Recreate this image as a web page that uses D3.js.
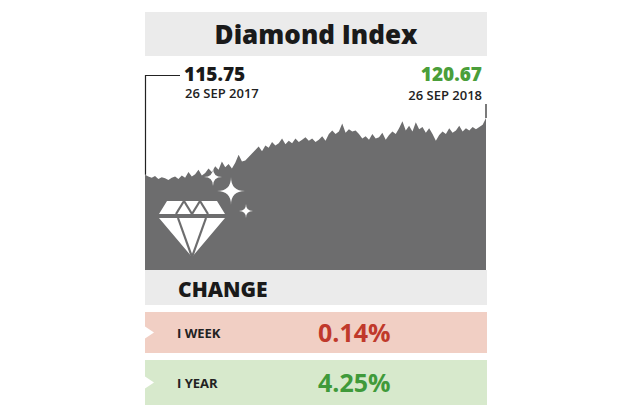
<!DOCTYPE html><html><head><meta charset="utf-8">
<script src="https://cdn.jsdelivr.net/npm/d3@7"></script>
<style>body{margin:0;background:#fff}svg{display:block}</style></head><body>
<svg id="c" width="630" height="416"></svg>
<script>
const title="Diamond Index";
const startLabel={value:"115.75",date:"26 SEP 2017"};
const endLabel={value:"120.67",date:"26 SEP 2018"};
const changeLabels=["I WEEK","I YEAR"];
const changeValues=["0.14%","4.25%"];
const series=[115.75,115.6,115.5,115.65,115.4,115.55,115.45,115.3,115.5,115.6,
115.4,115.7,115.5,116.0,115.6,115.8,116.2,115.7,115.9,116.3,
116.0,116.5,116.2,116.9,116.4,116.7,116.3,116.8,117.5,116.9,117.0,117.3,
117.6,117.9,118.2,117.8,118.3,118.1,118.6,118.3,118.5,118.9,
118.4,118.7,118.5,118.9,118.6,118.8,119.0,118.7,118.9,118.6,118.8,119.1,118.7,119.3,
119.6,119.3,119.5,120.2,119.4,119.7,119.5,119.6,119.3,118.9,
119.1,118.8,119.3,118.9,119.0,119.4,118.8,119.2,119.5,119.3,
119.8,120.4,119.6,120.0,119.5,120.3,119.7,119.9,119.4,119.8,119.3,118.7,
119.2,119.5,119.3,119.8,119.4,119.6,120.0,119.5,119.8,119.6,119.9,119.7,
119.9,120.1,120.67];

const svg=d3.select("#c");
const L=145,R=487;
svg.append("rect").attr("x",L).attr("y",12).attr("width",R-L).attr("height",44).attr("fill","#ebebeb");
svg.append("text").attr("x",(L+R)/2).attr("y",44).attr("text-anchor","middle")
 .attr("font-family","Open Sans").attr("font-weight",800).attr("font-size",26).attr("fill","#1a1a1a").text(title);

const x=d3.scaleLinear().domain([0,series.length-1]).range([L,R-1]);
const y=d3.scaleLinear().domain([107.5,122.5]).range([270,97]);
svg.append("path").datum(series).attr("fill","#6d6d6e")
 .attr("d",d3.area().x((d,i)=>x(i)).y0(270).y1(d=>y(d)));
svg.append("path").attr("fill","none").attr("stroke","#222").attr("stroke-width",1.2)
 .attr("d",`M${L+0.5},${y(series[0])}V75.5H180`);
svg.append("line").attr("x1",x(series.length-1)).attr("x2",x(series.length-1))
 .attr("y1",y(series[series.length-1])).attr("y2",104).attr("stroke","#222").attr("stroke-width",1.2);
const f="Open Sans";
svg.append("text").attr("x",184).attr("y",81).attr("font-family",f).attr("font-weight",800).attr("font-size",19).attr("fill","#1a1a1a").text(startLabel.value);
svg.append("text").attr("x",185).attr("y",98).attr("font-family",f).attr("font-weight",600).attr("font-size",13).attr("fill","#222").text(startLabel.date);
svg.append("text").attr("x",482).attr("y",81).attr("text-anchor","end").attr("font-family",f).attr("font-weight",800).attr("font-size",19).attr("fill","#4a9e3a").text(endLabel.value);
svg.append("text").attr("x",482).attr("y",100).attr("text-anchor","end").attr("font-family",f).attr("font-weight",600).attr("font-size",13).attr("fill","#222").text(endLabel.date);

// diamond icon
const g=svg.append("g").attr("fill","#fff");
g.append("path").attr("d","M167,201H217L225,214H159Z M159,218H225L192,257Z");
const gl=svg.append("g").attr("stroke","#6d6d6e").attr("stroke-width",2.2);
[[184,201,176,214],[184,201,192,214],[200,201,192,214],[200,201,208,214],[178,218,192,257],[206,218,192,257]]
 .forEach(a=>gl.append("line").attr("x1",a[0]).attr("y1",a[1]).attr("x2",a[2]).attr("y2",a[3]));
function spark(cx,cy,r){g.append("path").attr("d",`M${cx},${cy-r}Q${cx},${cy} ${cx+r},${cy}Q${cx},${cy} ${cx},${cy+r}Q${cx},${cy} ${cx-r},${cy}Q${cx},${cy} ${cx},${cy-r}Z`);}
spark(213,177,9);spark(231,191,14);spark(246,211,7);

// change section
svg.append("rect").attr("x",L).attr("y",270).attr("width",R-L).attr("height",35).attr("fill","#ebebeb");
svg.append("text").attr("x",178).attr("y",297).attr("font-family",f).attr("font-weight",800).attr("font-size",21).attr("fill","#1a1a1a").text("CHANGE");
const rows=[{y:312,h:41,bg:"#f1cfc4",c:"#c0392b"},{y:360,h:45,bg:"#d7e9cc",c:"#3f9a3a"}];
rows.forEach((r,i)=>{
 svg.append("rect").attr("x",L).attr("y",r.y).attr("width",R-L).attr("height",r.h).attr("fill",r.bg);
 const cy=r.y+r.h/2;
 svg.append("path").attr("fill","#fff").attr("d",`M${L},${cy-6}L${L+9},${cy}L${L},${cy+6}Z`);
 svg.append("text").attr("x",177).attr("y",cy+5).attr("font-family",f).attr("font-weight",700).attr("font-size",13).attr("fill","#222").text(changeLabels[i]);
 svg.append("text").attr("x",318).attr("y",cy+9).attr("font-family",f).attr("font-weight",700).attr("font-size",25).attr("fill",r.c).text(changeValues[i]);
});
</script></body></html>
